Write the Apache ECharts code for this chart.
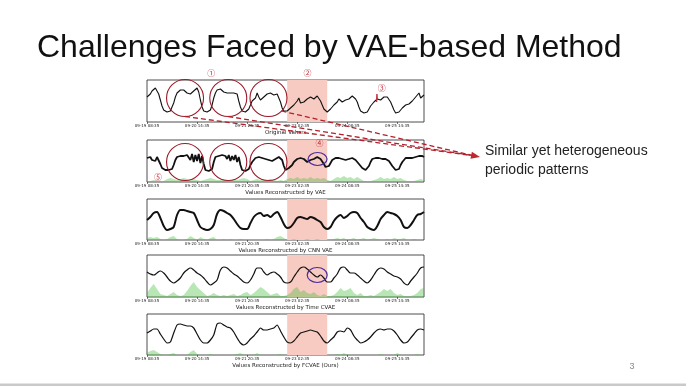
<!DOCTYPE html>
<html><head><meta charset="utf-8">
<script src="https://cdn.jsdelivr.net/npm/echarts/dist/echarts.min.js"></script>
<style>html,body{margin:0;padding:0;background:#fff}#c{width:686px;height:386px}</style>
</head><body><div id="c"></div>
<script>
// ---------- data (values = height above panel baseline, hours since 09-19 08:35) ----------
const tickLabels = ['09-19 08:35','09-20 14:35','09-21 20:35','09-23 02:35','09-24 08:35','09-25 14:35'];
const panelTitles = ['Original Values','Values Reconstructed by VAE','Values Reconstructed by CNN VAE','Values Reconstructed by Time CVAE','Values Reconstructed by FCVAE (Ours)'];
const shadeRange = [84, 108];

// hourly
const original = [25,26,28,31,33,34,32,28,22,16, 12,11,10,10,11,13,19,25,29,31, 32,31,32,30,29,30,28,29,31,33,
 34,30,22,15,11,10,10,11,12,17, 24,29,32,31,33,31,30,31,29,28, 29,28,29,30,28,21,15,11,10,10,
 11,13,17,21,23,24,29,25,22,23, 25,27,28,29,29,28,27,27,28,26, 20,14,11,10,11,12,14,16,17,18,
 21,24,19,19,20,22,23,24,25,25, 23,25,26,24,21,17,13,11,10,11, 13,15,17,18,20,23,24,20,21,22,
 22,23,25,26,26,23,20,15,11,9, 9,9,10,13,16,18,20,22,23,24, 22,23,25,26,25,23,20,16,12,9,
 9,10,12,14,16,17,17,18,19,21, 23,25,27,29,24,26,27];
const anomalyHours = [137.6, 137.8, 138.0];
const anomalyValues = [20, 28, 22];

// hourly
const vae = [24,23,25,22,24,21,25,26,18,14, 12,12,12,12,12,13,17,22,25,26, 26,27,26,27,27,27,22,28,20,27,
 21,28,19,26,18,12,11,11,11,13, 20,25,26,26,26,27,27,26,23,27, 21,26,22,27,20,25,17,12,11,11,
 11,13,17,20,22,24,24,25,25,24, 24,23,23,22,22,21,21,23,24,25, 25,22,16,12,12,14,16,17,20,22,
 23,24,24,24,23,21,20,21,22,23, 23,25,25,24,23,21,18,15,14,16, 18,22,24,24,24,24,23,23,23,22,
 22,23,24,24,23,22,20,18,16,14, 13,12,12,16,20,23,24,24,24,24, 24,23,23,23,22,21,19,16,14,12,
 12,13,17,20,22,24,24,24,24,24, 24,25,25,26,26,26,25];

// every 2 hours
const cnnVae = [20,23,27,28,22,14,10,11,13,25, 30,30,29,28,27,20,13,11,10,11, 15,26,30,29,27,25,21,16,12,11,
 11,17,23,26,27,24,25,23,26,28, 23,16,12,13,17,22,23,22,21,23, 22,20,18,13,11,13,19,23,25,22,
 24,27,28,27,22,18,13,11,10,14, 21,25,28,27,26,24,20,13,12,15, 20,25,26,28];
const timeCvae = [25,23,22,24,26,24,20,16,14,16, 19,24,27,29,27,24,22,19,15,12, 14,17,27,30,29,26,23,21,18,15,
 14,17,23,29,29,25,22,24,25,23, 20,15,14,15,20,25,29,30,28,25, 22,20,22,19,15,15,19,23,29,30,
 27,24,24,22,19,16,14,17,22,27, 29,28,25,23,21,20,18,14,12,16, 20,24,29,30];
const fcvae = [22,24,26,26,21,16,12,13,22,30, 31,30,29,29,27,21,15,12,12,15, 20,31,32,30,28,27,23,17,12,10,
 12,16,19,23,27,25,25,26,27,30, 24,18,13,12,14,18,22,23,24,25, 24,23,19,14,12,15,18,23,24,23,
 27,25,19,15,12,13,15,18,22,25, 26,25,26,26,24,20,15,12,13,17, 21,25,26,25];

// anomaly scores (green), every 2 hours
const scoreVae = [1,1,2,1,1,1,3,4,3,2, 3,4,3,2,3,2,1,2,3,4, 3,2,2,3,2,2,3,2,3,4, 3,1,2,3,2,3,2,3,2,1,
 2,1,3,4,3,5,3,4,3,5, 3,4,3,4,2,1,3,5,4,6, 4,5,3,5,3,1,1,1,2,3, 5,3,4,3,5,3,4,2,1,1, 1,2,3,2];
const scoreCnn = [2,3,2,3,1,0,1,3,4,1, 0,0,1,4,2,0,3,1,0,2, 3,0,0,1,0,1,0,0,1,0, 0,0,0,0,0,0,1,0,1,3,
 4,2,0,0,1,0,0,0,1,0, 0,1,0,0,0,0,1,2,1,2, 0,1,2,0,1,2,0,1,2,1, 0,0,1,0,2,1,1,2,0,0, 1,0,0,1];
const scoreTime = [4,9,13,8,3,2,1,3,5,2, 1,2,6,11,15,10,7,4,1,2, 4,2,1,2,1,2,3,1,2,4, 5,2,4,7,10,8,5,2,3,4,
 1,1,2,4,8,10,5,7,4,3, 5,2,1,3,1,1,2,5,9,6, 7,9,4,2,4,1,1,2,1,3, 5,8,6,8,4,2,3,1,1,1, 2,4,8,9];
const scoreFc = [2,4,5,3,1,0,0,1,2,0, 0,0,0,3,5,1,0,0,0,1, 0,0,0,0,0,0,0,1,2,0, 0,0,0,2,0,0,0,0,0,0,
 1,0,0,0,0,0,0,0,0,0, 0,0,0,0,0,0,0,1,0,2, 0,0,0,0,0,0,0,0,0,0, 1,0,0,0,0,2,0,0,0,0, 0,1,0,1];

// annotations in data coordinates: [grid, hour, value]
const redCircles = [[0,22.8,24],[0,48.7,24],[0,72.8,24],[1,22.8,20],[1,48.7,20],[1,72.8,20]];
const purpleEllipses = [[1,102.2,23,9.5,6.5],[3,102,22,10,7.5]];
const markLabels = [['①',0,38.5,49],['②',0,96.2,49],['③',0,140.7,34],['④',1,103.4,39],['⑤',1,6.6,5]];

// ---------- layout ----------
const tops = [80,140,199,255,314];
const heights = [42,42,41,42,41];
const lineSets = [
  {vals: original, step:1, width:1.1, smooth:false, score:null},
  {vals: vae, step:1, width:1.8, smooth:false, score:scoreVae},
  {vals: cnnVae, step:2, width:2.0, smooth:0.3, score:scoreCnn},
  {vals: timeCvae, step:2, width:1.2, smooth:0.4, score:scoreTime},
  {vals: fcvae, step:2, width:1.2, smooth:0.2, score:scoreFc}
];
const pts = (vals, step) => vals.map((v,i)=>[i*step, v]);

const grid=[], xAxis=[], yAxis=[], series=[];
lineSets.forEach((s,g)=>{
  grid.push({left:147, right:262, top:tops[g], height:heights[g], show:true, borderColor:'#222', borderWidth:0.8, backgroundColor:'rgba(0,0,0,0)'});
  xAxis.push({gridIndex:g, type:'value', min:0, max:166, interval:30,
    axisLine:{show:false}, splitLine:{show:false},
    axisTick:{show:true, length:2, lineStyle:{color:'#222', width:0.6}},
    axisLabel:{fontSize:4, color:'#222', margin:1.5, fontFamily:'DejaVu Sans', showMaxLabel:false,
      formatter: v => tickLabels[Math.round(v/30)] || ''}});
  yAxis.push({gridIndex:g, type:'value', min:0, max:heights[g], show:false});
  series.push({type:'line', xAxisIndex:g, yAxisIndex:g, data:[[shadeRange[0],0]], showSymbol:false, silent:true, z:1,
    lineStyle:{width:0},
    markArea:{silent:true, itemStyle:{color:'#f8cbc2'}, data:[[{xAxis:shadeRange[0]},{xAxis:shadeRange[1]}]]}});
  if (s.score) series.push({type:'line', xAxisIndex:g, yAxisIndex:g, data:pts(s.score,2), showSymbol:false, silent:true, z:2,
    lineStyle:{width:0}, areaStyle:{color:'rgba(70,190,60,0.55)', origin:'start'}});
  series.push({type:'line', xAxisIndex:g, yAxisIndex:g, data:pts(s.vals,s.step), showSymbol:false, silent:true, z:3,
    smooth:s.smooth, lineStyle:{color:'#111', width:s.width}});
});
series.push({type:'line', xAxisIndex:0, yAxisIndex:0, data:anomalyHours.map((h,i)=>[h,anomalyValues[i]]), showSymbol:false, z:4,
  lineStyle:{color:'#c0303a', width:1.4}});

const chart = echarts.init(document.getElementById('c'), null, {renderer:'canvas'});
chart.setOption({animation:false, backgroundColor:'#fff', grid, xAxis, yAxis, series});

// ---------- overlay graphics ----------
const px = (g,h,v) => chart.convertToPixel({gridIndex:g}, [h,v]);
const graphic = [];
const txt = (x,y,text,size,fill,align,family,weight) => ({type:'text', x, y, z:100, silent:true,
  style:{text, fontSize:size, fontFamily:family||'Liberation Sans, Arial, sans-serif', fontWeight:weight||'normal', fill,
    align:align||'left', textAlign:align||'left', verticalAlign:'middle', textVerticalAlign:'middle'}});

graphic.push(txt(37,48.5,'Challenges Faced by VAE-based Method',32,'#111','left'));
lineSets.forEach((s,g)=>{
  graphic.push(txt(285.5, tops[g]+heights[g]+11, panelTitles[g], 5.5, '#222', 'center', 'DejaVu Sans'));
});
graphic.push(txt(485,151,'Similar yet heterogeneous',14,'#222','left'));
graphic.push(txt(485,170,'periodic patterns',14,'#222','left'));
graphic.push(txt(632,367,'3',9,'#888','center'));
graphic.push({type:'rect', shape:{x:0,y:383.5,width:686,height:2.5}, style:{fill:'#c9c9c9'}, silent:true});

const R = 18.5;
const centers = redCircles.map(c=>px(c[0],c[1],c[2]));
centers.forEach(p=>graphic.push({type:'circle', z:101, silent:true, shape:{cx:p[0],cy:p[1],r:R}, style:{fill:'none', stroke:'#9b1c2a', lineWidth:1.1}}));
purpleEllipses.forEach(e=>{const p=px(e[0],e[1],e[2]); graphic.push({type:'ellipse', z:101, silent:true, shape:{cx:p[0],cy:p[1],rx:e[3],ry:e[4]}, style:{fill:'none', stroke:'#4b2c9c', lineWidth:1.2}});});
markLabels.forEach(m=>{const p=px(m[1],m[2],m[3]); graphic.push(txt(p[0],p[1],m[0],8,'#c0303a','center','Noto Sans CJK SC'));});

const tip = [480,157];
const starts = [[centers[0][0], centers[0][1]+R],[centers[1][0], centers[1][1]+R],[centers[2][0]+R*0.7, centers[2][1]+R*0.7]];
starts.forEach(s=>graphic.push({type:'line', z:102, silent:true, shape:{x1:s[0],y1:s[1],x2:tip[0]-6,y2:tip[1]-1.2}, style:{stroke:'#b3202c', lineWidth:1.3, lineDash:[5,3]}}));
const dx=1, dy=0.2, L=Math.hypot(dx,dy), ux=dx/L, uy=dy/L;
graphic.push({type:'polygon', z:103, silent:true, shape:{points:[[tip[0],tip[1]],[tip[0]-9*ux-3.5*uy, tip[1]-9*uy+3.5*ux],[tip[0]-9*ux+3.5*uy, tip[1]-9*uy-3.5*ux]]}, style:{fill:'#c0282d'}});

chart.setOption({graphic});
</script></body></html>
